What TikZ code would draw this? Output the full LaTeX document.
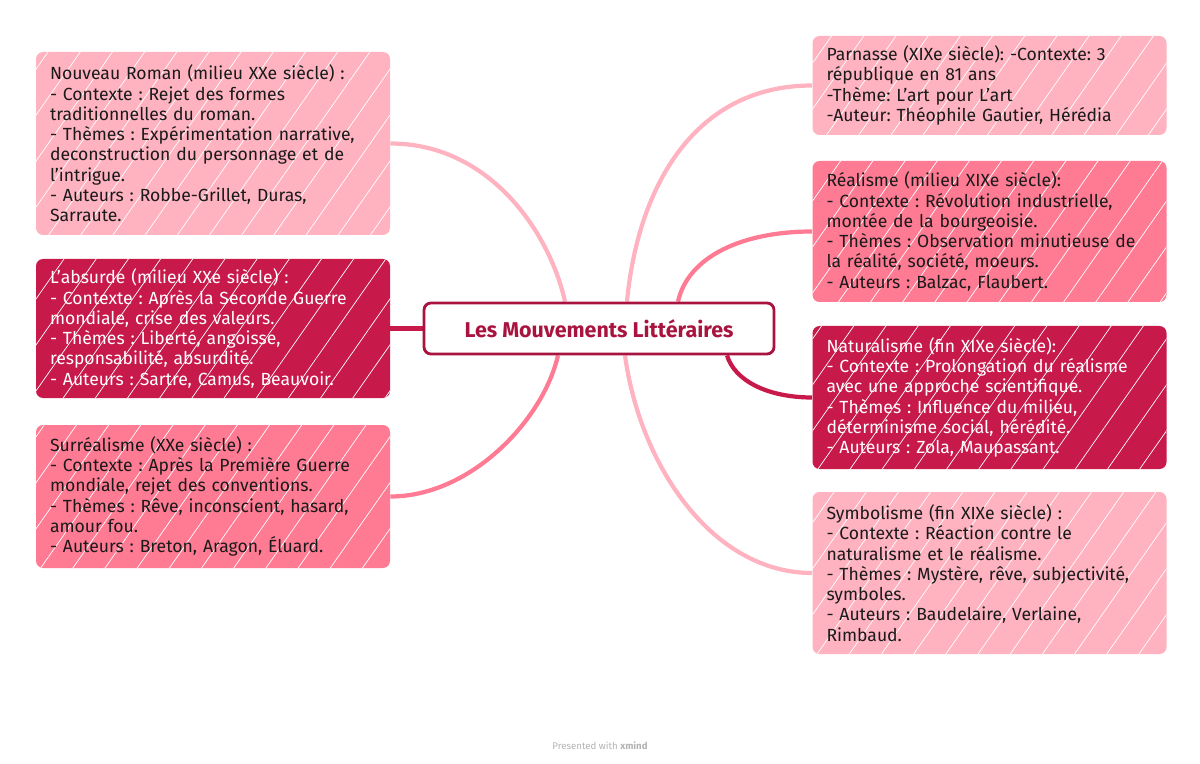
\documentclass[tikz,border=0pt]{standalone}
\usepackage{fontspec}
\setmainfont{Fira Sans}
\usepackage{tikz}
\usetikzlibrary{positioning,backgrounds,patterns.meta}
\definecolor{rosepale}{HTML}{FFB2C0}
\definecolor{rosevif}{HTML}{FF7A93}
\definecolor{cramoisi}{HTML}{C8194B}
\definecolor{bordeaux}{HTML}{A8143F}
\definecolor{encre}{HTML}{1A1A1A}
\frenchspacing

\begin{document}
\begin{tikzpicture}[x=1cm,y=1cm, font=\fontsize{10}{11.55}\selectfont,
  boite/.style={rounded corners=4pt, text width=6.52cm, inner xsep=0.28cm, inner ysep=0pt, align=left,
    postaction={pattern={Lines[angle=55,distance=15pt,line width=0.4pt]}, pattern color=white, fill opacity=0.4}},
  clair/.style={fill=rosepale, text=encre},
  vif/.style={fill=rosevif, text=encre},
  fonce/.style={fill=cramoisi, text=white},
  racine/.style={draw=bordeaux, line width=1.6pt, fill=white, rounded corners=4pt, minimum width=7.0cm,
    minimum height=1.02cm, text=bordeaux, font=\fontsize{12.2}{15}\selectfont\bfseries},
  lien/.style={line width=2.4pt}]
  \useasboundingbox (0,0) rectangle (24,-15.28);
  % branches gauches
  \node[boite, clair, minimum height=3.66cm] (roman) at (4.26,-2.87) {Nouveau Roman (milieu XXe siècle) :\\- Contexte : Rejet des formes\\traditionnelles du roman.\\- Thèmes : Expérimentation narrative,\\deconstruction du personnage et de\\l'intrigue.\\- Auteurs : Robbe-Grillet, Duras,\\Sarraute.};
  \node[boite, fonce, minimum height=2.78cm] (absurde) at (4.26,-6.57) {L'absurde (milieu XXe siècle) :\\- Contexte : Après la Seconde Guerre\\mondiale, crise des valeurs.\\- Thèmes : Liberté, angoisse,\\responsabilité, absurdité.\\- Auteurs : Sartre, Camus, Beauvoir.};
  \node[boite, vif, minimum height=2.86cm] (surreal) at (4.26,-9.93) {Surréalisme (XXe siècle) :\\- Contexte : Après la Première Guerre\\mondiale, rejet des conventions.\\- Thèmes : Rêve, inconscient, hasard,\\amour fou.\\- Auteurs : Breton, Aragon, Éluard.};
  % branches droites
  \node[boite, clair, minimum height=1.98cm] (parnasse) at (19.79,-1.71) {Parnasse (XIXe siècle): -Contexte: 3\\république en 81 ans\\-Thème: L'art pour L'art\\-Auteur: Théophile Gautier, Hérédia};
  \node[boite, vif, minimum height=2.82cm] (realisme) at (19.79,-4.63) {Réalisme (milieu XIXe siècle):\\- Contexte : Révolution industrielle,\\montée de la bourgeoisie.\\- Thèmes : Observation minutieuse de\\la réalité, société, moeurs.\\- Auteurs : Balzac, Flaubert.};
  \node[boite, fonce, minimum height=2.86cm] (natura) at (19.79,-7.95) {Naturalisme (fin XIXe siècle):\\- Contexte : Prolongation du réalisme\\avec une approche scientifique.\\- Thèmes : Influence du milieu,\\déterminisme social, hérédité.\\- Auteurs : Zola, Maupassant.};
  \node[boite, clair, minimum height=3.24cm] (symbol) at (19.79,-11.46) {Symbolisme (fin XIXe siècle) :\\- Contexte : Réaction contre le\\naturalisme et le réalisme.\\- Thèmes : Mystère, rêve, subjectivité,\\symboles.\\- Auteurs : Baudelaire, Verlaine,\\Rimbaud.};
  % sujet central
  \node[racine] (racine) at (11.98,-6.57) {Les Mouvements Littéraires};
  \node[text=black!30, font=\fontsize{5.5}{6}\selectfont] (credit) at (12.0,-14.92) {Presented with \textbf{xmind}};
  \begin{scope}[on background layer]
    \draw[lien, rosepale] (roman.east) .. controls +(2.0,0) and +(-0.3,1.36) .. ([xshift=-0.68cm]racine.north);
    \draw[lien, cramoisi] (absurde.east) -- (racine.west);
    \draw[lien, rosevif] (surreal.east) .. controls +(1.6,0) and +(-0.3,-1.3) .. ([xshift=-0.82cm]racine.south);
    \draw[lien, rosepale] (parnasse.west) .. controls +(-2.44,0) and +(0.2,2.16) .. ([xshift=0.56cm]racine.north);
    \draw[lien, rosevif] (realisme.west) .. controls +(-1.4,0) and +(0.2,0.9) .. ([xshift=1.58cm]racine.north);
    \draw[lien, cramoisi] (natura.west) .. controls +(-0.9,0) and +(0.15,-0.5) .. ([xshift=2.56cm]racine.south);
    \draw[lien, rosepale] (symbol.west) .. controls +(-2.0,0) and +(0.3,-2.2) .. ([xshift=0.52cm]racine.south);
  \end{scope}
\end{tikzpicture}
\end{document}
